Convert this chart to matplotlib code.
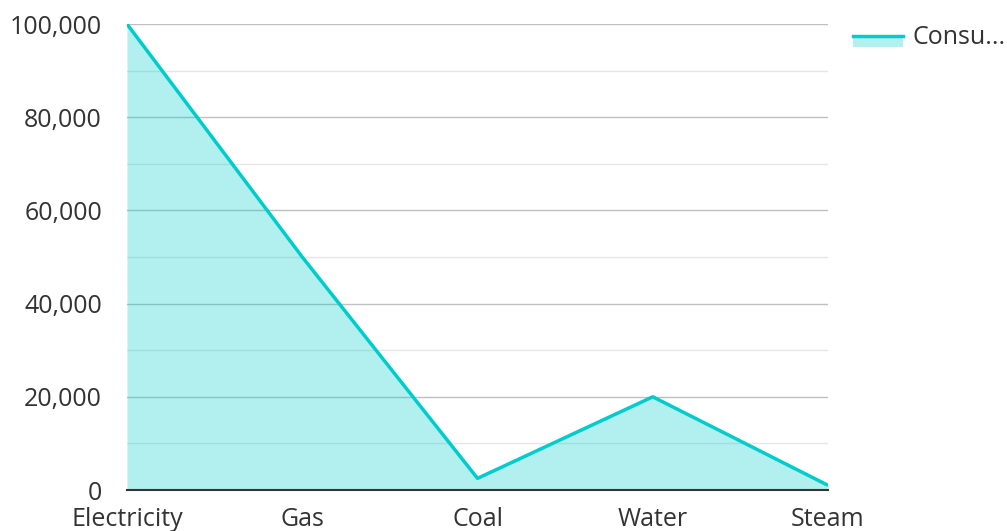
import matplotlib
matplotlib.use('Agg')
import matplotlib.pyplot as plt
from matplotlib.ticker import FuncFormatter, MultipleLocator
from matplotlib.lines import Line2D
from matplotlib.patches import Rectangle

plt.rcParams['font.family'] = ['Open Sans', 'DejaVu Sans']

categories = ['Electricity', 'Gas', 'Coal', 'Water', 'Steam']
consumption = [100000, 50000, 2500, 20000, 1000]
series_name = 'Consu...'

line_color = '#00cccc'
text_color = '#333333'

fig = plt.figure(figsize=(10.07, 5.31), dpi=100)
ax = fig.add_axes([0.1261, 0.0772, 0.8223 - 0.1261, 0.9548 - 0.0772])

x = list(range(len(categories)))
ax.fill_between(x, consumption, 0, color=line_color, alpha=0.3, lw=0, zorder=2)
ax.plot(x, consumption, color=line_color, lw=2.5, zorder=3, solid_capstyle='butt')

ax.set_xlim(0, len(categories) - 1)
ax.set_ylim(0, 100000)
ax.yaxis.set_major_locator(MultipleLocator(20000))
ax.yaxis.set_minor_locator(MultipleLocator(10000))
ax.yaxis.set_major_formatter(FuncFormatter(lambda v, p: f'{int(v):,}'))
ax.set_xticks(x)
ax.set_xticklabels(categories)

ax.grid(axis='y', which='major', color='#bfbfbf', lw=1, zorder=1)
ax.grid(axis='y', which='minor', color='#e6e6e6', lw=1, zorder=1)
ax.set_axisbelow(True)

for s in ['left', 'right', 'top']:
    ax.spines[s].set_visible(False)
ax.spines['bottom'].set_color('#333333')
ax.spines['bottom'].set_linewidth(1.5)
ax.spines['bottom'].set_zorder(4)

ax.tick_params(axis='both', which='both', length=0, labelsize=18, colors=text_color)
ax.tick_params(axis='y', pad=18)
ax.tick_params(axis='x', pad=12)

# legend drawn by hand
fig.patches.append(Rectangle((853 / 1007, 1 - 47 / 531), 50 / 1007, 12 / 531,
                             transform=fig.transFigure, color=line_color, alpha=0.3, lw=0))
fig.lines.append(Line2D([853 / 1007, 903 / 1007], [1 - 36 / 531, 1 - 36 / 531],
                        transform=fig.transFigure, color=line_color, lw=2.5))
fig.text(913 / 1007, 1 - 37 / 531, series_name, fontsize=18, color=text_color,
         va='center', ha='left')

fig.savefig('out.png', dpi=100)
